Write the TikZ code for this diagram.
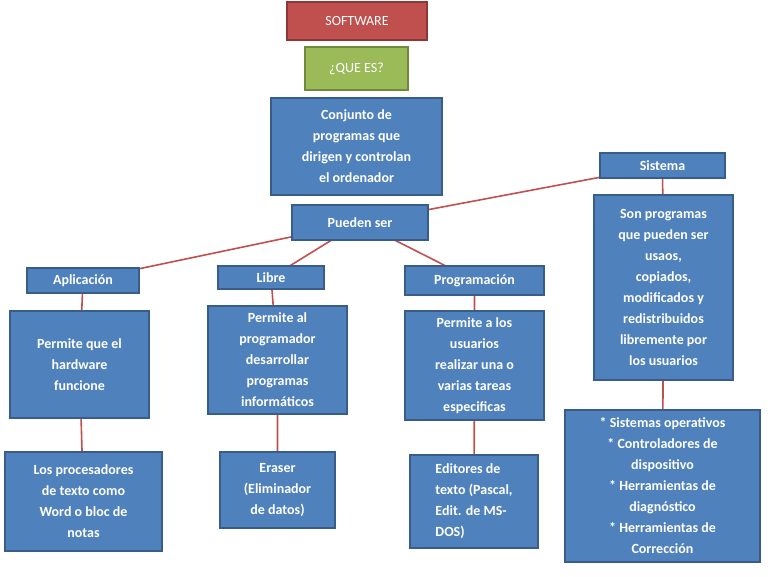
\documentclass[tikz,border=0pt]{standalone}
\usepackage{fontspec}
\setmainfont{Carlito}
\usetikzlibrary{backgrounds}
\definecolor{bfill}{HTML}{4F81BD}
\definecolor{bdraw}{HTML}{385D8A}
\definecolor{rfill}{HTML}{C0504D}
\definecolor{rdraw}{HTML}{8C3836}
\definecolor{gfill}{HTML}{9BBB59}
\definecolor{gdraw}{HTML}{71893F}
\tikzset{
 box/.style={draw=bdraw, fill=bfill, line width=1.2pt, text=white, align=center, inner sep=2pt,
   font=\fontsize{14}{21}\selectfont\bfseries},
 link/.style={draw=rfill, line width=1.6pt}
}
\begin{document}
\begin{tikzpicture}[x=1pt,y=-1pt]
\useasboundingbox (0,0) rectangle (768,576);
\node[box, fill=rfill, draw=rdraw, font=\fontsize{14}{21}\selectfont, minimum width=140pt, minimum height=38pt] (sw) at (357,21) {SOFTWARE};
\node[box, fill=gfill, draw=gdraw, font=\fontsize{14}{21}\selectfont, minimum width=103pt, minimum height=43pt] (que) at (356.5,68.5) {¿QUE ES?};
\node[box, minimum width=171pt, minimum height=97pt] (conj) at (356.5,146.5) {Conjunto de\\programas que\\dirigen y controlan\\el ordenador};
\node[box, minimum width=136pt, minimum height=35pt] (pued) at (360,222.5) {Pueden ser};
\node[box, minimum width=125pt, minimum height=25pt] (sist) at (662.5,165.5) {Sistema};
\node[box, minimum width=139pt, minimum height=185pt] (son) at (663.5,287.5) {Son programas\\que pueden ser\\usaos,\\copiados,\\modificados y\\redistribuidos\\libremente por\\los usuarios};
\node[box, minimum width=195pt, minimum height=152pt] (bul) at (662.5,486) {* Sistemas operativos\\* Controladores de\\dispositivo\\* Herramientas de\\diagnóstico\\* Herramientas de\\Corrección};
\node[box, minimum width=112pt, minimum height=25pt] (apl) at (83,280.5) {Aplicación};
\node[box, minimum width=106pt, minimum height=23pt] (lib) at (271,277.5) {Libre};
\node[box, minimum width=139pt, minimum height=29pt] (prog) at (474.5,280.5) {Programación};
\node[box, minimum width=139pt, minimum height=107pt] (p1) at (79.5,364.5) {Permite que el\\hardware\\funcione};
\node[box, minimum width=139pt, minimum height=108pt] (p2) at (277.5,360) {Permite al\\programador\\desarrollar\\programas\\informáticos};
\node[box, minimum width=139pt, minimum height=109pt] (p3) at (474.5,365.5) {Permite a los\\usuarios\\realizar una o\\varias tareas\\especificas};
\node[box, minimum width=157pt, minimum height=99pt] (e1) at (83.5,501.5) {Los procesadores\\de texto como\\Word o bloc de\\notas};
\node[box, minimum width=115pt, minimum height=76pt] (e2) at (277.5,490) {Eraser\\(Eliminador\\de datos)};
\node[box, minimum width=128pt, minimum height=93pt, align=left] (e3) at (474,501.5) {Editores de\\texto (Pascal,\\Edit. de MS-\\DOS)};
\begin{scope}[on background layer]
\draw[link] (pued.center) -- (apl.center);
\draw[link] (pued.center) -- (lib.center);
\draw[link] (pued.center) -- (prog.center);
\draw[link] (pued.center) -- (sist.center);
\draw[link] (apl.center) -- (p1.center) -- (e1.center);
\draw[link] (lib.center) -- (p2.center) -- (e2.center);
\draw[link] (prog.center) -- (p3.center) -- (e3.center);
\draw[link] (sist.center) -- (son.center) -- (bul.center);
\end{scope}
\end{tikzpicture}
\end{document}
